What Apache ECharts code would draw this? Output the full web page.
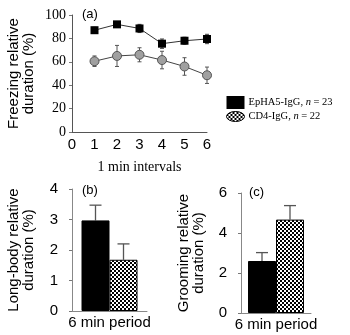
<!DOCTYPE html>
<html>
<head>
<meta charset="utf-8">
<script src="https://cdn.jsdelivr.net/npm/echarts@6/dist/echarts.min.js"></script>
<style>
  html, body { margin: 0; padding: 0; background: #fff; }
  #chart { width: 350px; height: 335px; }
</style>
</head>
<body>
<div id="chart"></div>
<script>
// panel (a): freezing, per 1 min interval
const minutes = [1, 2, 3, 4, 5, 6];
const ephaFreeze = [87, 92, 88.5, 75.5, 78, 79.5];
const ephaFreezeErr = [2.5, 2, 3.5, 4, 3, 4];
const cd4Freeze = [60.5, 65, 66, 61.5, 56, 48.5];
const cd4FreezeErr = [4.5, 9, 6, 7.5, 7.5, 7];

// panels (b) and (c): [EpHA5, CD4]
const period = ['6 min period'];
const longBody = [2.97, 1.68];
const longBodyErr = [0.5, 0.52];
const grooming = [2.6, 4.67];
const groomingErr = [0.42, 0.7];

const sans = '"Liberation Sans", Arial, sans-serif';
const serif = '"Liberation Serif", "Times New Roman", serif';

// checker fill for the CD4 bars
const tile = document.createElement('canvas');
tile.width = 4; tile.height = 4;
const tc = tile.getContext('2d');
tc.fillStyle = '#fff'; tc.fillRect(0, 0, 4, 4);
tc.fillStyle = '#000'; tc.fillRect(0, 0, 2, 2); tc.fillRect(2, 2, 2, 2);
const checker = { image: tile, repeat: 'repeat' };

// error bar drawers
function errBoth(color, cap) {
  return function (params, api) {
    const lo = api.coord([api.value(0), api.value(1)]);
    const hi = api.coord([api.value(0), api.value(2)]);
    const st = { stroke: color, lineWidth: 1 };
    return { type: 'group', children: [
      { type: 'line', shape: { x1: lo[0], y1: lo[1], x2: hi[0], y2: hi[1] }, style: st },
      { type: 'line', shape: { x1: lo[0] - cap, y1: lo[1], x2: lo[0] + cap, y2: lo[1] }, style: st },
      { type: 'line', shape: { x1: hi[0] - cap, y1: hi[1], x2: hi[0] + cap, y2: hi[1] }, style: st }
    ]};
  };
}
function errUp(offset) {
  return function (params, api) {
    const lo = api.coord([api.value(0), api.value(1)]);
    const hi = api.coord([api.value(0), api.value(2)]);
    const x = lo[0] + offset;
    const st = { stroke: '#555', lineWidth: 1.3 };
    return { type: 'group', children: [
      { type: 'line', shape: { x1: x, y1: lo[1], x2: x, y2: hi[1] }, style: st },
      { type: 'line', shape: { x1: x - 6, y1: hi[1], x2: x + 6, y2: hi[1] }, style: st }
    ]};
  };
}

function lineErr(vals, errs) {
  return minutes.map((m, i) => [m, vals[i] - errs[i], vals[i] + errs[i]]);
}

const barW = 28;
function barPanel(idx, vals, errs) {
  return [
    { name: 'EpHA5-IgG', type: 'bar', xAxisIndex: idx, yAxisIndex: idx, barWidth: barW, barGap: '0%',
      itemStyle: { color: '#000', borderColor: '#000', borderWidth: 1 }, data: [vals[0]], z: 2 },
    { name: 'CD4-IgG', type: 'bar', xAxisIndex: idx, yAxisIndex: idx, barWidth: barW, barGap: '0%',
      itemStyle: { color: checker, borderColor: '#000', borderWidth: 1 }, data: [vals[1]], z: 2 },
    { type: 'custom', xAxisIndex: idx, yAxisIndex: idx, renderItem: errUp(-barW / 2),
      data: [[0, vals[0], vals[0] + errs[0]]], z: 1 },
    { type: 'custom', xAxisIndex: idx, yAxisIndex: idx, renderItem: errUp(barW / 2),
      data: [[0, vals[1], vals[1] + errs[1]]], z: 1 }
  ];
}

const chart = echarts.init(document.getElementById('chart'));

const valueAxisBase = {
  type: 'value',
  nameLocation: 'middle',
  nameRotate: 90,
  nameTextStyle: { fontFamily: sans, fontSize: 15, lineHeight: 15, color: '#000' },
  splitLine: { show: false },
  axisTick: { show: true, length: 3, lineStyle: { color: '#777' } },
  axisLine: { show: true, lineStyle: { color: '#888' } }
};

const option = {
  animation: false,
  backgroundColor: '#fff',
  title: [
    { text: '(a)', left: 77, top: 3, textStyle: { fontFamily: sans, fontSize: 13, fontWeight: 'normal', color: '#000' } },
    { text: '(b)', left: 77, top: 179, textStyle: { fontFamily: sans, fontSize: 13, fontWeight: 'normal', color: '#000' } },
    { text: '(c)', left: 244, top: 181, textStyle: { fontFamily: sans, fontSize: 13, fontWeight: 'normal', color: '#000' } }
  ],
  legend: {
    orient: 'vertical',
    left: 221, top: 91,
    itemWidth: 18, itemHeight: 13, itemGap: 2,
    selectedMode: false,
    data: [
      { name: 'EpHA5-IgG', icon: 'rect', itemStyle: { color: '#000', borderWidth: 0 } },
      { name: 'CD4-IgG', icon: 'path://M0,5a9,5 0 1,0 18,0a9,5 0 1,0 -18,0z',
        itemStyle: { color: checker, borderColor: '#000', borderWidth: 1 } }
    ],
    formatter: name => name === 'EpHA5-IgG' ? '{t|EpHA5-IgG, }{i|n}{t| = 23}' : '{t|CD4-IgG, }{i|n}{t| = 22}',
    textStyle: {
      padding: [0, 0, 0, -1],
      rich: {
        t: { fontFamily: serif, fontSize: 10.5, color: '#000' },
        i: { fontFamily: serif, fontSize: 10.5, fontStyle: 'italic', color: '#000' }
      }
    }
  },
  grid: [
    { left: 72, top: 15, width: 135, height: 117 },
    { left: 72, top: 189, width: 75, height: 122 },
    { left: 241, top: 193, width: 70, height: 120 }
  ],
  xAxis: [
    { type: 'value', gridIndex: 0, min: 0, max: 6, interval: 1,
      name: '1 min intervals', nameLocation: 'middle', nameGap: 28,
      nameTextStyle: { fontFamily: serif, fontSize: 14, color: '#000' },
      splitLine: { show: false },
      axisTick: { show: false },
      axisLine: { lineStyle: { color: '#555' } },
      axisLabel: { fontFamily: sans, fontSize: 15, color: '#000', margin: 5 } },
    { type: 'category', gridIndex: 1, data: period,
      axisTick: { show: false },
      axisLine: { lineStyle: { color: '#888' } },
      axisLabel: { fontFamily: sans, fontSize: 15, color: '#000', margin: 4 } },
    { type: 'category', gridIndex: 2, data: period,
      axisTick: { show: false },
      axisLine: { lineStyle: { color: '#888' } },
      axisLabel: { fontFamily: sans, fontSize: 15, color: '#000', margin: 4 } }
  ],
  yAxis: [
    Object.assign({}, valueAxisBase, { gridIndex: 0, min: 0, max: 100, interval: 20,
      name: 'Freezing relative\nduration (%)', nameGap: 36,
      axisLine: { show: true, lineStyle: { color: '#555' } },
      axisLabel: { fontFamily: serif, fontSize: 14, color: '#000', margin: 6 } }),
    Object.assign({}, valueAxisBase, { gridIndex: 1, min: 0, max: 4, interval: 1,
      name: 'Long-body relative\nduration (%)', nameGap: 36,
      axisLabel: { fontFamily: sans, fontSize: 15, color: '#000', margin: 14 } }),
    Object.assign({}, valueAxisBase, { gridIndex: 2, min: 0, max: 6, interval: 2,
      name: 'Grooming relative\nduration (%)', nameGap: 35,
      axisLabel: { fontFamily: sans, fontSize: 15, color: '#000', margin: 14 } })
  ],
  series: [
    { type: 'custom', xAxisIndex: 0, yAxisIndex: 0, renderItem: errBoth('#444', 2),
      data: lineErr(ephaFreeze, ephaFreezeErr), z: 1 },
    { type: 'custom', xAxisIndex: 0, yAxisIndex: 0, renderItem: errBoth('#555', 2),
      data: lineErr(cd4Freeze, cd4FreezeErr), z: 1 },
    { name: 'EpHA5-IgG', type: 'line', xAxisIndex: 0, yAxisIndex: 0,
      symbol: 'rect', symbolSize: 8,
      lineStyle: { color: '#333', width: 1 },
      itemStyle: { color: '#000' },
      data: minutes.map((m, i) => [m, ephaFreeze[i]]), z: 3 },
    { name: 'CD4-IgG', type: 'line', xAxisIndex: 0, yAxisIndex: 0,
      symbol: 'circle', symbolSize: 9,
      lineStyle: { color: '#444', width: 1 },
      itemStyle: { color: '#a0a0a0', borderColor: '#555', borderWidth: 1 },
      data: minutes.map((m, i) => [m, cd4Freeze[i]]), z: 3 }
  ].concat(barPanel(1, longBody, longBodyErr), barPanel(2, grooming, groomingErr))
};

chart.setOption(option);
</script>
</body>
</html>
